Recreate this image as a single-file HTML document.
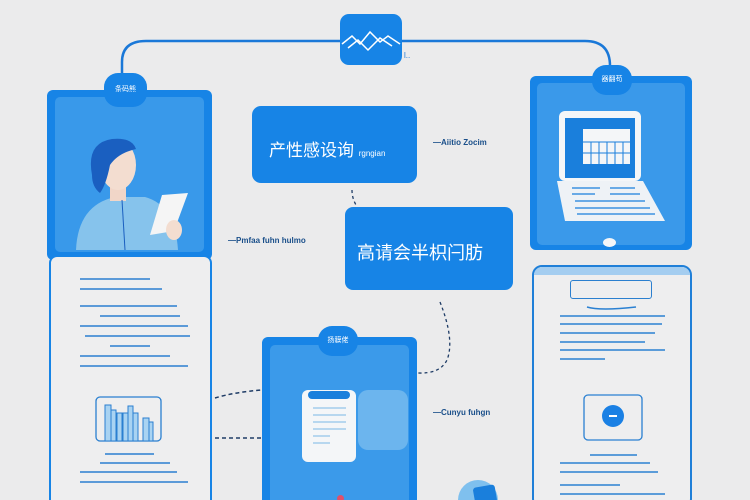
<!DOCTYPE html>
<html><head><meta charset="utf-8"><style>
html,body{margin:0;width:750px;height:500px;overflow:hidden}
body{background:#ebebec;font-family:"Liberation Sans","Noto Sans CJK SC",sans-serif;position:relative}
.a{position:absolute}
.blue{background:#1784e6}
.lbl{position:absolute;font-size:8px;color:#1a4f8a;font-weight:bold;white-space:nowrap}
</style></head><body>
<svg class="a" style="left:0;top:0" width="750" height="500">
<path d="M122 74 V62 Q122 41 146 41 H340" stroke="#1a78d8" stroke-width="2.5" fill="none"/>
<path d="M402 41 H585 Q610 41 610 66" stroke="#1a78d8" stroke-width="2.5" fill="none"/>
<path d="M352 190 Q352 198 356 205" stroke="#1f3c66" stroke-width="1.3" stroke-dasharray="3,3" fill="none"/>
<path d="M440 302 Q455 340 447 360 Q440 374 418 373" stroke="#1f3c66" stroke-width="1.3" stroke-dasharray="3,3" fill="none"/>
<path d="M215 398 Q235 392 262 390" stroke="#1f3c66" stroke-width="1.5" stroke-dasharray="4,3" fill="none"/>
<path d="M215 438 H262" stroke="#1f3c66" stroke-width="1.5" stroke-dasharray="4,3" fill="none"/>
</svg>
<div class="a blue" style="left:340px;top:14px;width:62px;height:51px;border-radius:9px"></div>
<svg class="a" style="left:340px;top:14px" width="75" height="51"><path d="M2 30 L12 22 L20 30 L30 18 L40 28 L48 22 L60 30" stroke="#fff" stroke-width="1.5" fill="none"/><path d="M8 34 L18 26 L28 36 L40 24 L52 32" stroke="#fff" stroke-width="1.5" fill="none"/><text x="64" y="44" font-size="8" fill="#1a78d8">l..</text></svg>

<div class="a blue" style="left:47px;top:90px;width:165px;height:170px;border-radius:6px"></div>
<div class="a" style="left:55px;top:97px;width:149px;height:155px;background:#3999ea;border-radius:5px"></div>
<div class="a blue" style="left:104px;top:73px;width:43px;height:34px;border-radius:14px;color:#fff;font-size:7px;text-align:center;line-height:34px">条码熊</div>
<svg class="a" style="left:70px;top:135px" width="125" height="115">
<path d="M6 115 Q8 70 45 62 L75 62 Q105 70 108 115 Z" fill="#86c3ec"/>
<rect x="40" y="42" width="16" height="24" fill="#f1d6c8"/>
<ellipse cx="48" cy="30" rx="18" ry="25" fill="#f3ddd0"/>
<path d="M22 40 Q16 8 42 4 Q62 2 66 14 Q48 18 40 30 Q36 50 30 58 Q22 52 22 40Z" fill="#1a5fc0"/>
<path d="M80 100 L92 60 L118 58 L104 96 Z" fill="#f5f5f5"/>
<ellipse cx="104" cy="95" rx="8" ry="10" fill="#f3ddd0"/>
<line x1="52" y1="65" x2="55" y2="115" stroke="#1a5fc0" stroke-width="1"/>
</svg>

<div class="a" style="left:49px;top:255px;width:159px;height:250px;border:2px solid #1784e6;border-radius:8px;background:#eeeeef"></div>
<svg class="a" style="left:0;top:0" width="750" height="500" stroke="#2a7fd0" stroke-width="1.6">
<line x1="80" y1="279" x2="150" y2="279"/><line x1="80" y1="289" x2="162" y2="289"/>
<line x1="80" y1="306" x2="177" y2="306"/><line x1="100" y1="316" x2="180" y2="316"/>
<line x1="80" y1="326" x2="188" y2="326"/><line x1="85" y1="336" x2="190" y2="336"/>
<line x1="110" y1="346" x2="150" y2="346"/><line x1="80" y1="356" x2="170" y2="356"/>
<line x1="80" y1="366" x2="188" y2="366"/>
<line x1="105" y1="454" x2="154" y2="454"/><line x1="100" y1="463" x2="170" y2="463"/>
<line x1="80" y1="472" x2="177" y2="472"/><line x1="80" y1="482" x2="188" y2="482"/>
<rect x="96" y="397" width="65" height="44" rx="4" fill="none" stroke-width="1.3"/>
<g fill="#a9d3f2" stroke-width="1"><rect x="105" y="405" width="6" height="36"/><rect x="111" y="410" width="5" height="31"/><rect x="117" y="413" width="5" height="28"/><rect x="123" y="413" width="5" height="28"/><rect x="128" y="406" width="5" height="35"/><rect x="133" y="413" width="5" height="28"/><rect x="143" y="418" width="6" height="23"/><rect x="149" y="422" width="4" height="19"/></g>
</svg>

<div class="a blue" style="left:252px;top:106px;width:165px;height:77px;border-radius:9px;color:#fff"><div style="position:absolute;left:17px;top:30px;font-size:17px">产性感设询 <span style="font-size:8px">rgngian</span></div></div>
<div class="lbl" style="left:433px;top:138px">—Aiitio Zocim</div>
<div class="lbl" style="left:228px;top:236px">—Pmfaa fuhn hulmo</div>
<div class="a blue" style="left:345px;top:207px;width:168px;height:83px;border-radius:8px;color:#fff;font-size:18px"><div style="position:absolute;left:12px;top:32px">高请会半枳闩肪</div></div>

<div class="a blue" style="left:530px;top:76px;width:162px;height:174px;border-radius:6px"></div>
<div class="a" style="left:537px;top:83px;width:148px;height:162px;background:#3a99ea;border-radius:5px"></div>
<div class="a blue" style="left:592px;top:65px;width:40px;height:30px;border-radius:14px;color:#fff;font-size:7px;text-align:center;line-height:30px">器翻苟</div>
<svg class="a" style="left:555px;top:108px" width="115" height="115">
<rect x="4" y="3" width="82" height="70" rx="6" fill="#f4f6f8"/>
<rect x="10" y="10" width="70" height="60" fill="#1a7fdc"/>
<rect x="28" y="21" width="47" height="35" fill="#f4f6f8"/>
<g stroke="#1a7fdc" stroke-width="1"><line x1="28" y1="34" x2="75" y2="34"/><line x1="28" y1="45" x2="75" y2="45"/><line x1="36" y1="34" x2="36" y2="56"/><line x1="44" y1="34" x2="44" y2="56"/><line x1="52" y1="34" x2="52" y2="56"/><line x1="60" y1="34" x2="60" y2="56"/><line x1="68" y1="34" x2="68" y2="56"/></g>
<path d="M2 73 L88 73 L110 113 L10 113 Z" fill="#eef2f6"/>
<g stroke="#1a7fdc" stroke-width="1.2"><line x1="17" y1="80" x2="45" y2="80"/><line x1="55" y1="80" x2="80" y2="80"/><line x1="17" y1="86" x2="40" y2="86"/><line x1="55" y1="86" x2="85" y2="86"/><line x1="20" y1="93" x2="90" y2="93"/><line x1="20" y1="100" x2="95" y2="100"/><line x1="22" y1="106" x2="100" y2="106"/></g>
</svg>
<div class="a" style="left:603px;top:238px;width:13px;height:9px;border-radius:50%;background:#f4f6f8"></div>

<div class="a" style="left:532px;top:265px;width:156px;height:240px;border:2px solid #1f7fd8;border-radius:10px;background:#eeeeef;overflow:hidden"><div style="height:8px;background:#a4cdf0"></div></div>
<div class="a" style="left:570px;top:280px;width:80px;height:17px;border:1.5px solid #2b7fcf;border-radius:3px"></div>
<svg class="a" style="left:0;top:0" width="750" height="500" stroke="#2a80d2" stroke-width="1.5">
<path d="M587 307 Q600 311 636 307" fill="none"/>
<line x1="560" y1="316" x2="665" y2="316"/><line x1="560" y1="324" x2="662" y2="324"/><line x1="560" y1="333" x2="655" y2="333"/><line x1="560" y1="342" x2="645" y2="342"/><line x1="560" y1="350" x2="665" y2="350"/><line x1="560" y1="359" x2="605" y2="359"/>
<rect x="584" y="395" width="58" height="45" rx="4" fill="none" stroke-width="1.3"/>
<line x1="590" y1="455" x2="637" y2="455"/><line x1="560" y1="463" x2="650" y2="463"/><line x1="560" y1="472" x2="658" y2="472"/><line x1="560" y1="485" x2="620" y2="485"/><line x1="560" y1="494" x2="665" y2="494"/>
</svg>
<div class="a" style="left:602px;top:405px;width:22px;height:22px;border-radius:50%;background:#1a80e4"></div>
<div class="a" style="left:609px;top:415px;width:8px;height:2px;background:#fff"></div>

<div class="a blue" style="left:262px;top:337px;width:155px;height:170px;border-radius:6px"></div>
<div class="a" style="left:270px;top:345px;width:139px;height:160px;background:#3b9aea;border-radius:5px"></div>
<div class="a blue" style="left:318px;top:326px;width:40px;height:30px;border-radius:14px;color:#fff;font-size:7px;text-align:center;line-height:30px">扬貘佬</div>
<div class="a" style="left:358px;top:390px;width:50px;height:60px;background:#6cb5ee;border-radius:10px"></div>
<div class="a" style="left:302px;top:390px;width:54px;height:72px;background:#f4f6f8;border-radius:6px"></div>
<div class="a" style="left:308px;top:391px;width:42px;height:8px;background:#1a7fdc;border-radius:4px"></div>
<svg class="a" style="left:310px;top:405px" width="40" height="45" stroke="#7ab8e6" stroke-width="1"><line x1="3" y1="3" x2="36" y2="3"/><line x1="3" y1="10" x2="36" y2="10"/><line x1="3" y1="17" x2="36" y2="17"/><line x1="3" y1="24" x2="36" y2="24"/><line x1="3" y1="31" x2="20" y2="31"/><line x1="3" y1="38" x2="20" y2="38"/></svg>
<div class="a" style="left:337px;top:495px;width:7px;height:7px;border-radius:50%;background:#e0506a"></div>

<div class="lbl" style="left:433px;top:408px">—Cunyu fuhgn</div>
<div class="a" style="left:458px;top:480px;width:40px;height:40px;border-radius:50%;background:#7fc0ee"></div>
<div class="a" style="left:474px;top:486px;width:22px;height:18px;background:#1a7fdc;border-radius:3px;transform:rotate(-10deg)"></div>
</body></html>
